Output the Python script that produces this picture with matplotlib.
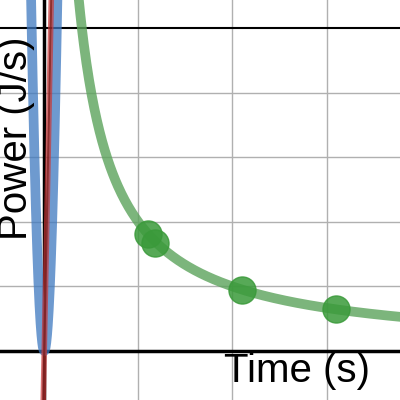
import numpy as np
import matplotlib
matplotlib.use("Agg")
import matplotlib.pyplot as plt

pts_t = [1.1, 1.18, 2.1, 3.1]
pts_p = [1.82, 1.68, 0.95, 0.65]
k = 2.0
a_blue = 280.0
slope_red = 73.0

plt.rcParams['font.family'] = ['Liberation Sans', 'DejaVu Sans']
fig = plt.figure(figsize=(4, 4), dpi=100)
ax = fig.add_axes([0, 0, 1, 1])
ax.set_xlim(-0.47, 3.78)
ax.set_ylim(-0.76, 5.44)
for x in [1, 2, 3]:
    ax.axvline(x, color='#b0b0b0', lw=1.0, zorder=0)
for y in [1, 2, 3, 4]:
    ax.axhline(y, color='#b0b0b0', lw=1.0, zorder=0)
ax.axhline(5, color='black', lw=1.5, zorder=0)
ax.axhline(0, color='black', lw=2.5, zorder=1)
ax.axvline(0, color='black', lw=2.5, zorder=1)

t = np.linspace(0.3, 4, 400)
ax.plot(t, k / t, color='#5ba35b', lw=7, alpha=0.8, solid_capstyle='round')
tb = np.linspace(-0.16, 0.16, 200)
ax.plot(tb, a_blue * tb**2, color='#3d78c0', lw=7, alpha=0.75)
tr = np.linspace(-0.02, 0.08, 10)
ax.plot(tr, slope_red * tr, color='#c83737', lw=4, alpha=0.7)
ax.plot(tr, slope_red * tr, color='#7a1f1f', lw=1.5, alpha=0.8)
ax.scatter(pts_t, pts_p, s=380, color='#3a9a3a', alpha=0.85, zorder=5)

ax.text(3.46, -0.02, "Time (s)", fontsize=29, ha='right', va='top')
ax.text(-0.50, 3.3, "Power (J/s)", fontsize=29, rotation=90, ha='left', va='center')
ax.set_xticks([]); ax.set_yticks([])
for s in ax.spines.values():
    s.set_visible(False)
fig.savefig("out.png", dpi=100)
